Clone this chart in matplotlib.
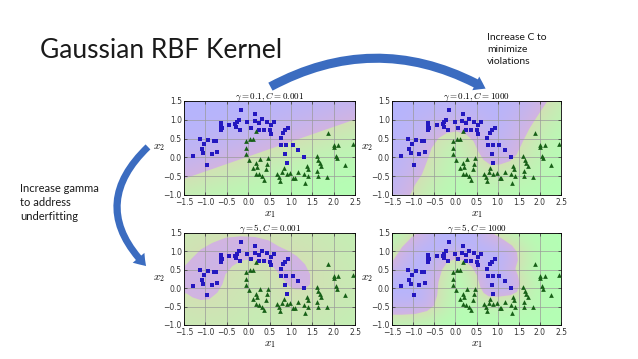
import numpy as np
import matplotlib.pyplot as plt
from matplotlib.path import Path
from matplotlib.patches import FancyArrowPatch

plt.rcParams['mathtext.fontset'] = 'cm'

# moons data (same points in all four panels)
blue_x = [-1.28, -1.12, -1.09, -1.03, -1.05, -0.93, -0.97, -0.85, -0.79, -0.74, -0.73,
          -0.64, -0.64, -0.64, -0.62, -0.44, -0.30, -0.28, -0.26, -0.22, -0.16, -0.18,
          -0.02, 0.06, 0.15, 0.17, 0.25, 0.25, 0.33, 0.37, 0.43, 0.50, 0.53, 0.54, 0.61,
          0.76, 0.82, 0.87, 0.94, 0.78, 0.88, 0.86, 1.04, 1.17, 1.31, 0.90]
blue_y = [0.05, 0.49, 0.22, 0.36, 0.11, 0.47, -0.19, 0.10, 0.43, 0.43, 0.14,
          0.91, 0.82, 0.72, 0.78, 0.87, 0.88, 0.82, 0.94, 1.00, 1.26, 0.73,
          0.93, 0.78, 0.97, 1.15, 0.73, 0.91, 1.02, 0.73, 0.95, 0.72, 0.85, 0.62, 0.94,
          0.51, 0.65, 0.72, 0.78, 0.32, 0.32, 0.10, 0.34, 0.19, 0.01, -0.15]
green_x = [-0.05, 0.05, 0.11, -0.05, -0.06, 0.02, 0.19, 0.21, 0.28, 0.25, 0.19, 0.33,
           0.37, 0.46, 0.43, 0.41, 0.68, 0.72, 0.74, 0.79, 0.83, 0.90, 1.05, 1.09,
           1.17, 1.37, 1.39, 1.31, 1.41, 1.33, 1.60, 1.64, 1.68, 1.62, 1.63, 1.71,
           1.84, 1.88, 2.00, 2.00, 2.11, 2.06, 2.08, 2.27, 2.45, 0.11, 0.18, 0.98]
green_y = [0.44, 0.50, 0.49, 0.25, 0.10, -0.06, -0.15, -0.25, -0.03, -0.45, -0.43, -0.50,
           -0.59, -0.01, -0.17, -0.32, -0.43, -0.52, -0.63, -0.39, -0.28, -0.43, -0.54, -0.54,
           -0.38, -0.23, -0.32, -0.45, -0.50, -0.67, 0.03, -0.08, -0.15, -0.37, -0.50, -0.23,
           -0.52, 0.66, 0.32, 0.27, 0.32, 0.05, -0.01, -0.19, 0.36, -0.28, 0.70, -0.41]

titles = [r"$\gamma = 0.1, C = 0.001$", r"$\gamma = 0.1, C = 1000$",
          r"$\gamma = 5, C = 0.001$", r"$\gamma = 5, C = 1000$"]

# outline of the blue-class region in each panel
region_x = [
    [-1.5, 2.5, 2.5, -1.5],
    [-1.07, -0.95, -0.79, -0.67, -0.56, -0.40, -0.20, 0.03, 0.27, 0.43, 0.54, 0.66, 0.82,
     1.05, 1.29, 1.45, 1.60, 1.76, 1.96, 2.18, -1.5, -1.5],
    [-1.5, -1.30, -1.11, -0.84, -0.53, -0.18, 0.17, 0.48, 0.71, 0.95, 1.14, 1.33, 1.45,
     1.45, 1.33, 1.10, 0.95, 0.83, 0.67, 0.52, 0.29, 0.02, -0.18, -0.37, -0.53, -0.60,
     -0.72, -0.91, -1.11, -1.30, -1.44, -1.5],
    [-1.5, -1.26, -1.03, -0.91, 0.87, 1.10, 1.34, 1.46, 1.48, 1.42, 1.48, 1.52, 1.46, 1.30,
     1.02, 0.79, 0.67, 0.59, 0.51, 0.39, 0.20, -0.04, -0.20, -0.32, -0.40, -0.43, -0.51,
     -0.67, -0.95, -1.26, -1.5],
]
region_y = [
    [-0.57, 1.01, 1.5, 1.5],
    [-1.0, -0.72, -0.45, -0.10, 0.25, 0.51, 0.65, 0.69, 0.60, 0.43, 0.16, -0.06, -0.19,
     -0.19, -0.10, 0.07, 0.43, 0.78, 1.13, 1.5, 1.5, -1.0],
    [0.58, 0.83, 1.05, 1.23, 1.37, 1.41, 1.39, 1.30, 1.14, 1.01, 0.87, 0.65, 0.38,
     0.11, -0.03, -0.03, 0.06, 0.24, 0.47, 0.65, 0.76, 0.78, 0.74, 0.60, 0.38, 0.11,
     -0.12, -0.30, -0.32, -0.25, -0.14, -0.14],
    [0.71, 1.12, 1.39, 1.5, 1.5, 1.35, 1.16, 0.98, 0.76, 0.53, 0.35, 0.12, -0.10, -0.19,
     -0.23, -0.22, -0.13, 0.03, 0.35, 0.58, 0.76, 0.78, 0.70, 0.49, 0.17, -0.19, -0.48,
     -0.62, -0.70, -0.72, -0.72],
]
# how quickly the shading fades from the boundary
shade_scale = [1.0, 0.8, 3.0, 0.5]

xlim = (-1.5, 2.5)
ylim = (-1.0, 1.5)
W, H = 638, 359
axes_px = [(184, 101, 355, 195), (392, 101, 561, 195),
           (184, 233, 355, 325), (392, 233, 561, 325)]

fig = plt.figure(figsize=(W / 100, H / 100), dpi=100)

gx, gy = np.meshgrid(np.linspace(*xlim, 160), np.linspace(*ylim, 100))

for k in range(4):
    x0, y0, x1, y1 = axes_px[k]
    ax = fig.add_axes([x0 / W, 1 - y1 / H, (x1 - x0) / W, (y1 - y0) / H])
    ax.set_facecolor((0.8, 1.0, 0.8))
    px, py = np.array(region_x[k]), np.array(region_y[k])
    ax.fill(px, py, color=(0.8, 0.8, 1.0), lw=0, zorder=0.2)

    # signed distance to the decision boundary -> shading like a decision function
    sx, sy = [], []
    n = len(px)
    for i in range(n):
        a, b = i, (i + 1) % n
        t = np.linspace(0, 1, 40)
        sx.append(px[a] + (px[b] - px[a]) * t)
        sy.append(py[a] + (py[b] - py[a]) * t)
    sx, sy = np.concatenate(sx), np.concatenate(sy)
    keep = ~((np.abs(sx - xlim[0]) < 1e-9) | (np.abs(sx - xlim[1]) < 1e-9) |
             (np.abs(sy - ylim[0]) < 1e-9) | (np.abs(sy - ylim[1]) < 1e-9))
    sx, sy = sx[keep], sy[keep]
    d = np.sqrt((gx[..., None] - sx) ** 2 + (gy[..., None] - sy) ** 2).min(axis=-1)
    inside = Path(np.column_stack([px, py])).contains_points(
        np.column_stack([gx.ravel(), gy.ravel()])).reshape(gx.shape)
    field = np.tanh(d / shade_scale[k]) * np.where(inside, -1, 1)
    ax.imshow(field, extent=(*xlim, *ylim), origin='lower', cmap='brg', vmin=-1, vmax=1,
              alpha=0.12, aspect='auto', interpolation='bilinear', zorder=0.5)

    ax.plot(blue_x, blue_y, 's', color='#2418c0', ms=3, mew=0, zorder=3)
    ax.plot(green_x, green_y, '^', color='#176017', ms=3.4, mew=0, zorder=3)
    ax.set_xlim(*xlim)
    ax.set_ylim(*ylim)
    ax.set_xticks(np.arange(-1.5, 2.51, 0.5))
    ax.set_yticks(np.arange(-1.0, 1.51, 0.5))
    ax.grid(True, color='#9a9a9a', lw=0.5, zorder=1)
    ax.tick_params(labelsize=5.5, length=2, width=0.5, direction='in',
                   top=True, right=True, colors='#333333')
    ax.tick_params(axis='x', pad=2.5)
    ax.tick_params(axis='y', pad=1.5)
    for s in ax.spines.values():
        s.set_linewidth(0.6)
    ax.set_title(titles[k], fontsize=6.5, pad=2)
    ax.set_xlabel(r"$x_1$", fontsize=8, labelpad=1)
    ax.set_ylabel(r"$x_2$", fontsize=8, rotation=0, labelpad=3, va='center')

fig.text(40 / W, 1 - 50 / H, "Gaussian RBF Kernel", fontsize=19, family='Lato',
         color='#1a1a1a', va='center', ha='left')
fig.text(487 / W, 1 - 33 / H, "Increase C to\nminimize\nviolations", fontsize=7.5,
         family='Lato', color='#1a1a1a', va='top', ha='left', linespacing=1.4)
fig.text(20 / W, 1 - 183 / H, "Increase gamma\nto address\nunderfitting", fontsize=8,
         family='Lato', color='#1a1a1a', va='top', ha='left', linespacing=1.35)

top_arrow = FancyArrowPatch((268 / W, 1 - 88 / H), (488 / W, 1 - 90 / H),
                            transform=fig.transFigure, connectionstyle="arc3,rad=-0.28",
                            arrowstyle="simple,head_width=11,head_length=8,tail_width=6.5",
                            color='#3b6cc0', lw=0)
left_arrow = FancyArrowPatch((150 / W, 1 - 145 / H), (148 / W, 1 - 268 / H),
                             transform=fig.transFigure, connectionstyle="arc3,rad=0.52",
                             arrowstyle="simple,head_width=11,head_length=8,tail_width=5",
                             color='#3b6cc0', lw=0)
fig.patches.extend([top_arrow, left_arrow])

fig.savefig('out.png', dpi=100)
